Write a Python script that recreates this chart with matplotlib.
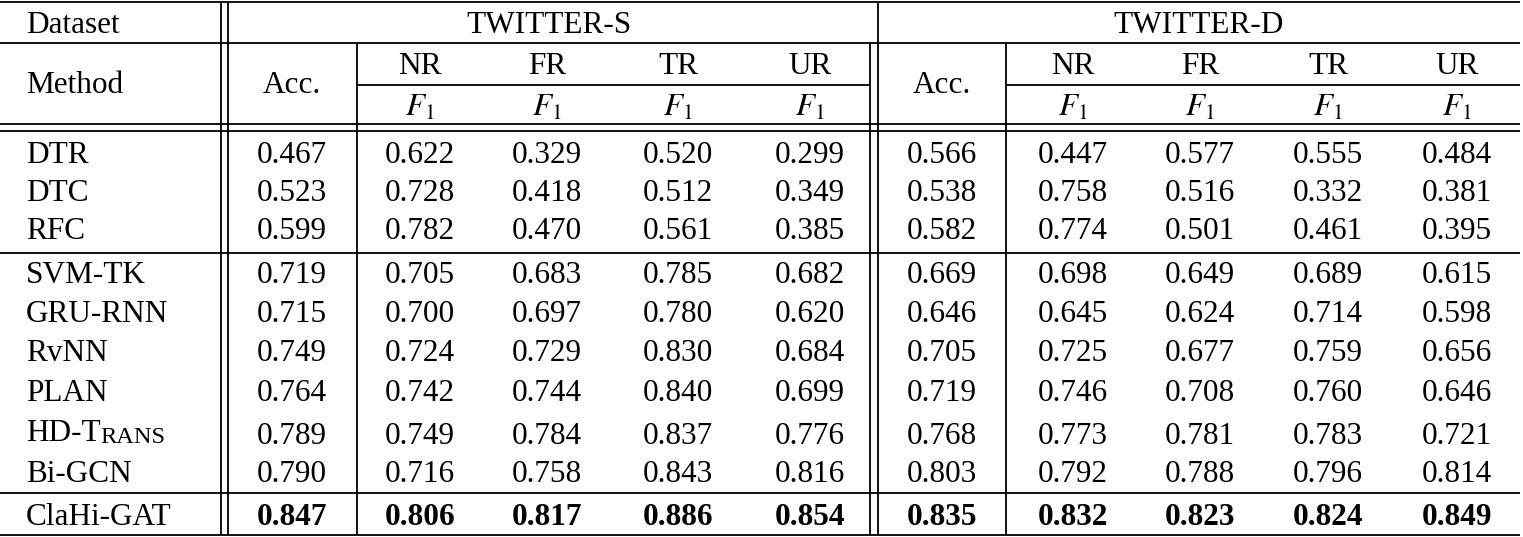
import matplotlib
matplotlib.use("Agg")
import matplotlib.pyplot as plt

plt.rcParams['font.family'] = ['Liberation Serif', 'DejaVu Serif']
plt.rcParams['mathtext.fontset'] = 'stix'

methods = ["DTR", "DTC", "RFC", "SVM-TK", "GRU-RNN", "RvNN", "PLAN", "HD-TRANS", "Bi-GCN", "ClaHi-GAT"]
twitter_s = [
    ["0.467", "0.622", "0.329", "0.520", "0.299"],
    ["0.523", "0.728", "0.418", "0.512", "0.349"],
    ["0.599", "0.782", "0.470", "0.561", "0.385"],
    ["0.719", "0.705", "0.683", "0.785", "0.682"],
    ["0.715", "0.700", "0.697", "0.780", "0.620"],
    ["0.749", "0.724", "0.729", "0.830", "0.684"],
    ["0.764", "0.742", "0.744", "0.840", "0.699"],
    ["0.789", "0.749", "0.784", "0.837", "0.776"],
    ["0.790", "0.716", "0.758", "0.843", "0.816"],
    ["0.847", "0.806", "0.817", "0.886", "0.854"],
]
twitter_d = [
    ["0.566", "0.447", "0.577", "0.555", "0.484"],
    ["0.538", "0.758", "0.516", "0.332", "0.381"],
    ["0.582", "0.774", "0.501", "0.461", "0.395"],
    ["0.669", "0.698", "0.649", "0.689", "0.615"],
    ["0.646", "0.645", "0.624", "0.714", "0.598"],
    ["0.705", "0.725", "0.677", "0.759", "0.656"],
    ["0.719", "0.746", "0.708", "0.760", "0.646"],
    ["0.768", "0.773", "0.781", "0.783", "0.721"],
    ["0.803", "0.792", "0.788", "0.796", "0.814"],
    ["0.835", "0.832", "0.823", "0.824", "0.849"],
]
classes = ["NR", "FR", "TR", "UR"]

W, H = 1523, 537
fig = plt.figure(figsize=(W / 100, H / 100), dpi=100)
ax = fig.add_axes([0, 0, 1, 1])
ax.set_xlim(0, W)
ax.set_ylim(H, 0)
ax.axis('off')

fs = 22.5
lw = 1.3
k = 'black'
VA = 'center_baseline'

def hl(y, x0=0, x1=1520):
    ax.plot([x0, x1], [y, y], color=k, lw=lw, solid_capstyle='butt')

def vl(x, y0, y1):
    ax.plot([x, x], [y0, y1], color=k, lw=lw, solid_capstyle='butt')

hl(2)
hl(43)
hl(85, 357, 870)
hl(85, 1006, 1520)
hl(124)
hl(131)
hl(253)
hl(493)
hl(535)

vl(221, 2, 535)
vl(228, 2, 535)
vl(357, 43, 535)
vl(870, 43, 535)
vl(878, 2, 535)
vl(1006, 43, 535)

ax.text(26, 22, "Dataset", fontsize=fs, va=VA, ha='left')
ax.text(26, 82, "Method", fontsize=fs, va=VA, ha='left')
ax.text(549, 22, "TWITTER-S", fontsize=fs, va=VA, ha='center')
ax.text(1199, 22, "TWITTER-D", fontsize=fs, va=VA, ha='center')

acc_x = [292, 942]
cls_x = [[420, 547, 678, 810], [1073, 1200, 1328, 1457]]
for g in range(2):
    ax.text(acc_x[g], 82, "Acc.", fontsize=fs, va=VA, ha='center')
    for c, x in zip(classes, cls_x[g]):
        ax.text(x, 63, c, fontsize=fs, va=VA, ha='center')
        ax.text(x, 105, "$F_1$", fontsize=fs, va=VA, ha='center')

row_y = [152, 190, 228, 272, 311, 350, 390, 433, 471, 514]
for i, m in enumerate(methods):
    y = row_y[i]
    weight = 'bold' if i == len(methods) - 1 else 'normal'
    if m == "HD-TRANS":
        t1 = ax.text(26, y + 8, "HD-T", fontsize=fs, va='baseline', ha='left')
        ax.annotate("RANS", xy=(1, 0), xycoords=t1, fontsize=fs * 0.78,
                    va='bottom', ha='left')
    else:
        ax.text(26, y, m, fontsize=fs, va=VA, ha='left')
    for g, data in enumerate([twitter_s, twitter_d]):
        xs = [acc_x[g]] + cls_x[g]
        for x, v in zip(xs, data[i]):
            ax.text(x, y, v, fontsize=fs, va=VA, ha='center', fontweight=weight)

fig.savefig("out.png", dpi=100, facecolor='white')
